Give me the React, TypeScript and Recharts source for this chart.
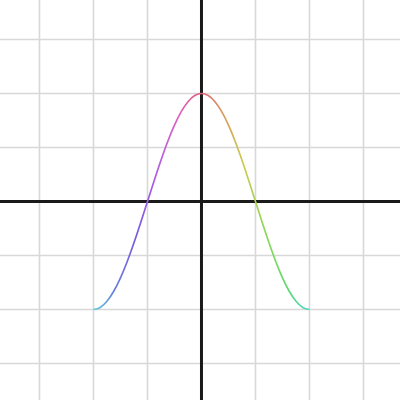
import { LineChart, Line, XAxis, YAxis, ReferenceLine } from "recharts";

// curve samples (x in grid units)
const xs = [
  -2, -1.875, -1.75, -1.625, -1.5, -1.375, -1.25, -1.125, -1, -0.875, -0.75,
  -0.625, -0.5, -0.375, -0.25, -0.125, 0, 0.125, 0.25, 0.375, 0.5, 0.625,
  0.75, 0.875, 1, 1.125, 1.25, 1.375, 1.5, 1.625, 1.75, 1.875, 2,
];
const ys = [
  -2, -1.962, -1.848, -1.663, -1.414, -1.111, -0.765, -0.39, 0, 0.39, 0.765,
  1.111, 1.414, 1.663, 1.848, 1.962, 2, 1.962, 1.848, 1.663, 1.414, 1.111,
  0.765, 0.39, 0, -0.39, -0.765, -1.111, -1.414, -1.663, -1.848, -1.962, -2,
];
const gridTicks = [-3, -2, -1, 1, 2, 3];
const gradientColors = [
  "#5cd0d8",
  "#6a80e0",
  "#7a5ce0",
  "#b25ee0",
  "#e060c0",
  "#e0607a",
  "#d89a60",
  "#cacc50",
  "#8cd858",
  "#60d870",
  "#52d8c8",
];

const data = xs.map((x, i) => ({ x, y: ys[i] }));

export default function App() {
  return (
    <div style={{ position: "absolute", left: 0, top: 0 }}>
      <LineChart
        width={400}
        height={400}
        data={data}
        margin={{ top: 0, right: 0, bottom: 0, left: 0 }}
      >
        <defs>
          <linearGradient
            id="curveGrad"
            gradientUnits="userSpaceOnUse"
            x1="93"
            y1="0"
            x2="309"
            y2="0"
          >
            {gradientColors.map((c, i) => (
              <stop
                key={c}
                offset={`${(i / (gradientColors.length - 1)) * 100}%`}
                stopColor={c}
              />
            ))}
          </linearGradient>
        </defs>
        <XAxis
          dataKey="x"
          type="number"
          domain={[-3.731, 3.676]}
          allowDataOverflow
          hide
        />
        <YAxis type="number" domain={[-3.676, 3.731]} allowDataOverflow hide />
        {gridTicks.map((t) => (
          <ReferenceLine key={`v${t}`} x={t} stroke="#d8d8d8" strokeWidth={1.6} />
        ))}
        {gridTicks.map((t) => (
          <ReferenceLine key={`h${t}`} y={t} stroke="#d8d8d8" strokeWidth={1.6} />
        ))}
        <ReferenceLine x={0} stroke="#1a1a1a" strokeWidth={3} />
        <ReferenceLine y={0} stroke="#1a1a1a" strokeWidth={3} />
        <Line
          dataKey="y"
          type="monotone"
          stroke="url(#curveGrad)"
          strokeWidth={1.7}
          dot={false}
          activeDot={false}
          isAnimationActive={false}
        />
      </LineChart>
    </div>
  );
}
